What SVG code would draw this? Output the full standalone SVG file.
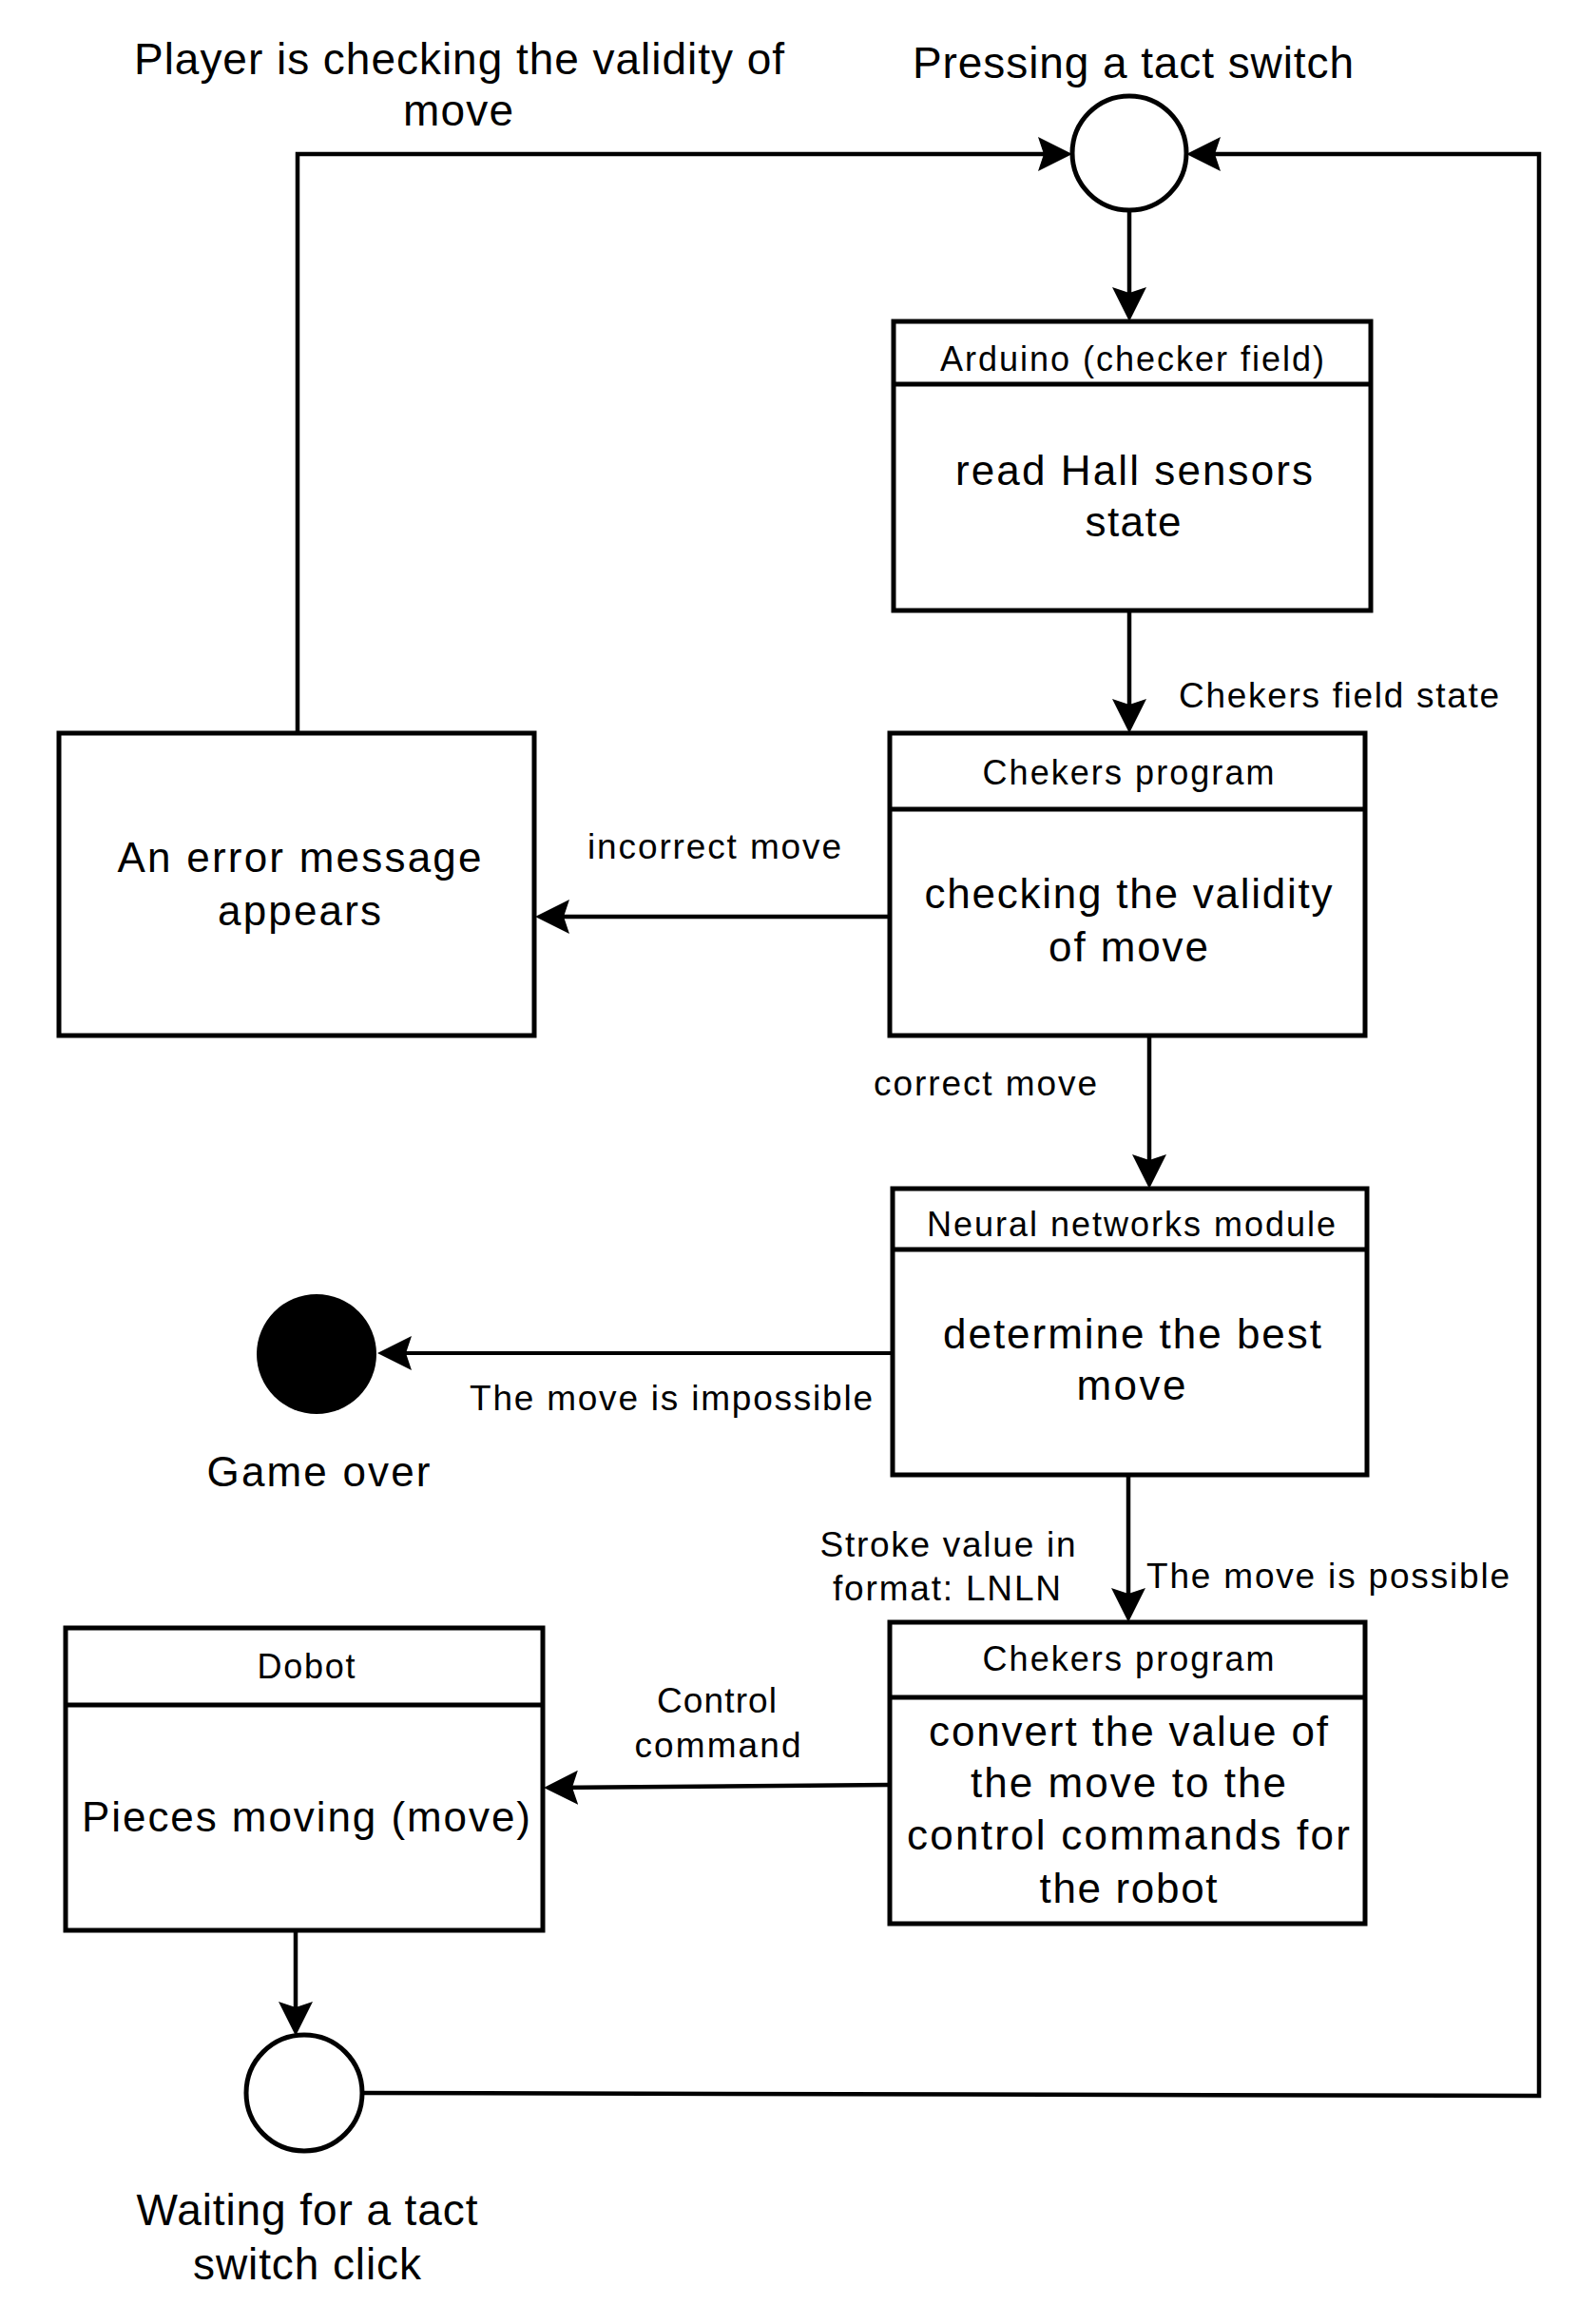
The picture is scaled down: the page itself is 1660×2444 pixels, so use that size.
<svg xmlns="http://www.w3.org/2000/svg" width="1660" height="2444" viewBox="0 0 1660 2444">
<style>
text{font-family:"Liberation Sans",Arial,sans-serif;fill:#000}
.big{font-size:46px}
.body{font-size:44px}
.hdr{font-size:36px}
.lbl{font-size:37px}
.box{fill:#fff;stroke:#000;stroke-width:5}
.div{stroke:#000;stroke-width:5}
.con{fill:none;stroke:#000;stroke-width:4.5;marker-end:url(#arr)}
.m{text-anchor:middle}
</style>
<defs>
<marker id="arr" viewBox="0 0 36 36" refX="28" refY="18" markerWidth="36" markerHeight="36" markerUnits="userSpaceOnUse" orient="auto">
<path d="M0,0 L36,18 L0,36 L6,18 Z" fill="#000"/>
</marker>
</defs>
<rect width="1660" height="2444" fill="#fff"/>

<g id="connectors">
<path class="con" d="M313,772 V162 H1120"/>
<path class="con" d="M381,2201 L1619,2204 V162 H1256"/>
<path class="con" d="M1188,221 V330"/>
<path class="con" d="M1188,642 V763"/>
<path class="con" d="M936,964 H571"/>
<path class="con" d="M1209,1089 V1242"/>
<path class="con" style="stroke-width:4" d="M939,1423 H405"/>
<path class="con" d="M1187,1551 V1698"/>
<path class="con" d="M936,1877 L580,1880"/>
<path class="con" d="M311,2030 V2133"/>
<text class="lbl" x="1240" y="744" textLength="337" lengthAdjust="spacing">Chekers field state</text>
<text class="lbl" x="618" y="903" textLength="267" lengthAdjust="spacing">incorrect move</text>
<text class="lbl" x="919" y="1152" textLength="235" lengthAdjust="spacing">correct move</text>
<text class="lbl" x="494" y="1483" textLength="424" lengthAdjust="spacing">The move is impossible</text>
<text class="lbl m" x="997" y="1637" textLength="269" lengthAdjust="spacing">Stroke value in</text>
<text class="lbl m" x="996" y="1683" textLength="240" lengthAdjust="spacing">format: LNLN</text>
<text class="lbl" x="1206" y="1670" textLength="382" lengthAdjust="spacing">The move is possible</text>
<text class="lbl m" x="754" y="1801" textLength="126" lengthAdjust="spacing">Control</text>
<text class="lbl m" x="755" y="1848" textLength="175" lengthAdjust="spacing">command</text>
<text class="big m" x="483" y="78" textLength="684" lengthAdjust="spacing">Player is checking the validity of</text>
<text class="big m" x="482" y="132" textLength="116" lengthAdjust="spacing">move</text>
</g>

<g id="start-switch">
<circle cx="1188" cy="161" r="60" fill="#fff" stroke="#000" stroke-width="5"/>
<text class="big m" x="1192" y="82" textLength="464" lengthAdjust="spacing">Pressing a tact switch</text>
</g>

<g id="arduino">
<rect class="box" x="940" y="338" width="502" height="304"/>
<line class="div" x1="940" y1="404" x2="1442" y2="404"/>
<text class="hdr m" x="1191" y="390" textLength="404" lengthAdjust="spacing">Arduino (checker field)</text>
<text class="body m" x="1193" y="510" textLength="376" lengthAdjust="spacing">read Hall sensors</text>
<text class="body m" x="1192" y="564" textLength="101" lengthAdjust="spacing">state</text>
</g>

<g id="checkers-validate">
<rect class="box" x="936" y="771" width="500" height="318"/>
<line class="div" x1="936" y1="851" x2="1436" y2="851"/>
<text class="hdr m" x="1187" y="825" textLength="307" lengthAdjust="spacing">Chekers program</text>
<text class="body m" x="1187" y="955" textLength="429" lengthAdjust="spacing">checking the validity</text>
<text class="body m" x="1187" y="1011" textLength="168" lengthAdjust="spacing">of move</text>
</g>

<g id="error">
<rect class="box" x="62" y="771" width="500" height="318"/>
<text class="body m" x="315" y="917" textLength="383" lengthAdjust="spacing">An error message</text>
<text class="body m" x="315" y="973" textLength="172" lengthAdjust="spacing">appears</text>
</g>

<g id="neural">
<rect class="box" x="939" y="1250" width="499" height="301"/>
<line class="div" x1="939" y1="1314" x2="1438" y2="1314"/>
<text class="hdr m" x="1190" y="1300" textLength="430" lengthAdjust="spacing">Neural networks module</text>
<text class="body m" x="1191" y="1418" textLength="398" lengthAdjust="spacing">determine the best</text>
<text class="body m" x="1190" y="1472" textLength="115" lengthAdjust="spacing">move</text>
</g>

<g id="game-over">
<circle cx="333" cy="1424" r="63" fill="#000"/>
<text class="body m" x="335" y="1563" textLength="235" lengthAdjust="spacing">Game over</text>
</g>

<g id="checkers-convert">
<rect class="box" x="936" y="1706" width="500" height="317"/>
<line class="div" x1="936" y1="1785" x2="1436" y2="1785"/>
<text class="hdr m" x="1187" y="1757" textLength="307" lengthAdjust="spacing">Chekers program</text>
<text class="body m" x="1187" y="1836" textLength="420" lengthAdjust="spacing">convert the value of</text>
<text class="body m" x="1187" y="1890" textLength="332" lengthAdjust="spacing">the move to the</text>
<text class="body m" x="1187" y="1945" textLength="466" lengthAdjust="spacing">control commands for</text>
<text class="body m" x="1187" y="2001" textLength="187" lengthAdjust="spacing">the robot</text>
</g>

<g id="dobot">
<rect class="box" x="69" y="1712" width="502" height="318"/>
<line class="div" x1="69" y1="1793" x2="571" y2="1793"/>
<text class="hdr m" x="322" y="1765" textLength="103" lengthAdjust="spacing">Dobot</text>
<text class="body m" x="322" y="1926" textLength="472" lengthAdjust="spacing">Pieces moving (move)</text>
</g>

<g id="wait-switch">
<circle cx="320" cy="2201" r="61" fill="#fff" stroke="#000" stroke-width="5"/>
<text class="big m" x="323" y="2340" textLength="359" lengthAdjust="spacing">Waiting for a tact</text>
<text class="big m" x="323" y="2397" textLength="240" lengthAdjust="spacing">switch click</text>
</g>
</svg>
